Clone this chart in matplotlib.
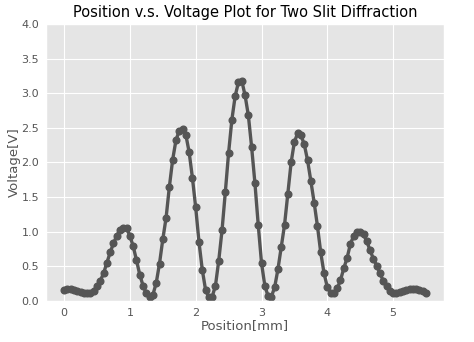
import numpy as np
import matplotlib
matplotlib.use("Agg")
import matplotlib.pyplot as plt

# position [mm], 0.05 mm step
position = np.round(np.arange(0, 5.5001, 0.05), 2)
# voltage [V]
voltage = [
    0.16, 0.17, 0.17, 0.16, 0.15, 0.13, 0.12, 0.11, 0.12, 0.15,   # 0.00 - 0.45
    0.21, 0.29, 0.40, 0.55, 0.70, 0.83, 0.94, 1.03, 1.06, 1.05,   # 0.50 - 0.95
    0.94, 0.79, 0.59, 0.38, 0.22, 0.11, 0.06, 0.09, 0.26, 0.54,   # 1.00 - 1.45
    0.89, 1.20, 1.65, 2.04, 2.32, 2.46, 2.49, 2.40, 2.15, 1.78,   # 1.50 - 1.95
    1.35, 0.85, 0.45, 0.16, 0.05, 0.06, 0.22, 0.58, 1.02, 1.57,   # 2.00 - 2.45
    2.14, 2.62, 2.96, 3.16, 3.18, 2.97, 2.68, 2.22, 1.70, 1.10,   # 2.50 - 2.95
    0.55, 0.22, 0.07, 0.06, 0.20, 0.46, 0.78, 1.10, 1.55, 2.00,   # 3.00 - 3.45
    2.30, 2.42, 2.39, 2.26, 2.03, 1.73, 1.42, 1.08, 0.70, 0.40,   # 3.50 - 3.95
    0.20, 0.11, 0.11, 0.18, 0.30, 0.47, 0.62, 0.82, 0.94, 1.00,   # 4.00 - 4.45
    1.00, 0.96, 0.86, 0.73, 0.61, 0.51, 0.40, 0.29, 0.21, 0.15,   # 4.50 - 4.95
    0.12, 0.12, 0.13, 0.14, 0.16, 0.17, 0.17, 0.17, 0.16, 0.14,   # 5.00 - 5.45
    0.12,                                                         # 5.50
]

plt.style.use("ggplot")
fig = plt.figure(figsize=(4.74, 3.42), dpi=100)
ax = fig.add_axes([0.097, 0.12, 0.84, 0.81])
ax.plot(position, voltage, "o-", color="#555555", lw=2.4, ms=4.8)
ax.set_ylim(0, 4)
ax.set_yticks(np.arange(0, 4.01, 0.5))
ax.tick_params(labelsize=8, length=0, pad=5)
ax.set_title("Position v.s. Voltage Plot for Two Slit Diffraction", fontsize=10.5, color="black", pad=5)
ax.set_xlabel("Position[mm]", fontsize=9.5, labelpad=1)
ax.set_ylabel("Voltage[V]", fontsize=9.5, labelpad=0)
fig.savefig("out.png", dpi=100)
